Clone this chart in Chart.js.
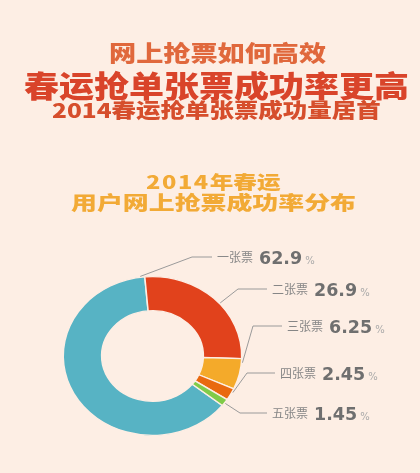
<!DOCTYPE html>
<html>
<head>
<meta charset="utf-8">
<script src="https://cdn.jsdelivr.net/npm/chart.js@4.4.1/dist/chart.umd.min.js"></script>
<style>
    html, body { margin: 0; padding: 0; background: #fdeee4; width: 420px; height: 473px; overflow: hidden; }
    #wrap { position: relative; width: 420px; height: 473px; }
    canvas { position: absolute; left: 0; top: 0; }
    .hd {
        position: absolute; left: 0; top: 0; white-space: nowrap; line-height: 1;
        font-family: "Noto Sans CJK SC", sans-serif; font-weight: 900; transform-origin: 0 0;
    }
    .wide { letter-spacing: 1.2px; }
</style>
</head>
<body>
<div id="wrap">
    <canvas id="ticketChart" width="420" height="473"></canvas>
    <div class="hd" id="h1">网上抢票如何高效</div>
    <div class="hd" id="h2">春运抢单张票成功率更高</div>
    <div class="hd" id="h3">2014春运抢单张票成功量居首</div>
    <div class="hd" id="s1"><span class="wide">2014</span>年春运</div>
    <div class="hd" id="s2">用户网上抢票成功率分布</div>
</div>
<script>
const categories = ['一张票', '二张票', '三张票', '四张票', '五张票'];
const shares = [62.9, 26.9, 6.25, 2.45, 1.45];

const sliceColors = ['#57b3c4', '#e1421c', '#f4aa2a', '#e9690f', '#80cb48'];
const bg = '#fdeee4';
const SQUASH = 0.89; // the donut in the picture is a little flatter than round

// label text position (x, middle y) and the elbow x of each leader line
const labelPos = [
    { x: 217, y: 257, ex: 192 },
    { x: 272, y: 289, ex: 238 },
    { x: 287, y: 326, ex: 253 },
    { x: 280, y: 373, ex: 247 },
    { x: 272, y: 413, ex: 240 }
];

// headings: id, centre x, centre y, target width, font size, colour
const headings = [
    ['h1', 217.5, 50.5, 217, 22, '#e0683c'],
    ['h2', 216.5, 83.5, 385, 30, '#d9442a'],
    ['h3', 216.5, 109.5, 329, 20, '#d64e2c'],
    ['s1', 213.5, 181, 135, 18, '#f2aa36'],
    ['s2', 213.5, 201.5, 285, 19, '#f2aa36']
];

headings.forEach(([id, cx, cy, w, size, color]) => {
    const el = document.getElementById(id);
    el.style.fontSize = size + 'px';
    el.style.color = color;
    const sx = w / el.offsetWidth;
    const h = el.offsetHeight;
    const left = cx - w / 2;
    const top = cy - h / 2;
    el.style.transform = `translate(${left}px, ${top}px) scale(${sx}, 1)`;
});

const squashPlugin = {
    id: 'squash',
    beforeDatasetsDraw(chart) {
        const arc = chart.getDatasetMeta(0).data[0];
        const ctx = chart.ctx;
        ctx.save();
        ctx.translate(arc.x, arc.y);
        ctx.scale(1, SQUASH);
        ctx.translate(-arc.x, -arc.y);
    },
    afterDatasetsDraw(chart) {
        chart.ctx.restore();
    }
};

const labelPlugin = {
    id: 'leaderLabels',
    afterDraw(chart) {
        const ctx = chart.ctx;
        const meta = chart.getDatasetMeta(0);
        ctx.save();
        meta.data.forEach((arc, i) => {
            const p = labelPos[i];
            const { x: cx, y: cy, startAngle, endAngle, outerRadius } =
                arc.getProps(['x', 'y', 'startAngle', 'endAngle', 'outerRadius'], true);
            const TAU = Math.PI * 2;
            let a = Math.atan2((p.y - cy) / SQUASH, p.ex - cx);
            while (a < startAngle) a += TAU;
            while (a >= startAngle + TAU) a -= TAU;
            const m = Math.min(0.05, (endAngle - startAngle) * 0.3);
            const lo = startAngle + m, hi = endAngle - m;
            if (a < lo || a > hi) {
                const dHi = a > hi ? a - hi : Infinity;
                const dLo = a < lo ? lo - a : (startAngle + TAU - a) + m;
                a = dHi < dLo ? hi : lo;
            }
            const r = outerRadius + 1;
            const ax = cx + r * Math.cos(a);
            const ay = cy + r * Math.sin(a) * SQUASH;

            ctx.strokeStyle = '#9a9a9a';
            ctx.lineWidth = 1;
            ctx.beginPath();
            ctx.moveTo(ax, ay);
            ctx.lineTo(p.ex, p.y);
            ctx.lineTo(p.x - 5, p.y);
            ctx.stroke();

            ctx.textBaseline = 'alphabetic';
            ctx.textAlign = 'left';
            ctx.font = '12px "Noto Sans CJK SC"';
            ctx.fillStyle = '#868686';
            ctx.fillText(categories[i], p.x, p.y + 4.5);
            const lw = ctx.measureText(categories[i]).width;

            ctx.font = 'bold 17.5px "DejaVu Sans"';
            ctx.fillStyle = '#6f6f6f';
            const num = String(shares[i]);
            const nx = p.x + lw + 6;
            ctx.fillText(num, nx, p.y + 6.5);
            const nw = ctx.measureText(num).width;

            ctx.font = '10px "DejaVu Sans"';
            ctx.fillStyle = '#a9a9a9';
            ctx.fillText('%', nx + nw + 3, p.y + 6.5);
        });
        ctx.restore();
    }
};

new Chart(document.getElementById('ticketChart').getContext('2d'), {
    type: 'doughnut',
    data: {
        labels: categories,
        datasets: [{
            data: shares,
            backgroundColor: sliceColors,
            borderColor: bg,
            borderWidth: 1.5
        }]
    },
    options: {
        responsive: false,
        animation: false,
        events: [],
        rotation: 128.5,
        cutout: '57%',
        layout: { padding: { left: 62.5, right: 177.5, top: 266, bottom: 27 } },
        plugins: {
            legend: { display: false },
            tooltip: { enabled: false }
        }
    },
    plugins: [squashPlugin, labelPlugin]
});
</script>
</body>
</html>
